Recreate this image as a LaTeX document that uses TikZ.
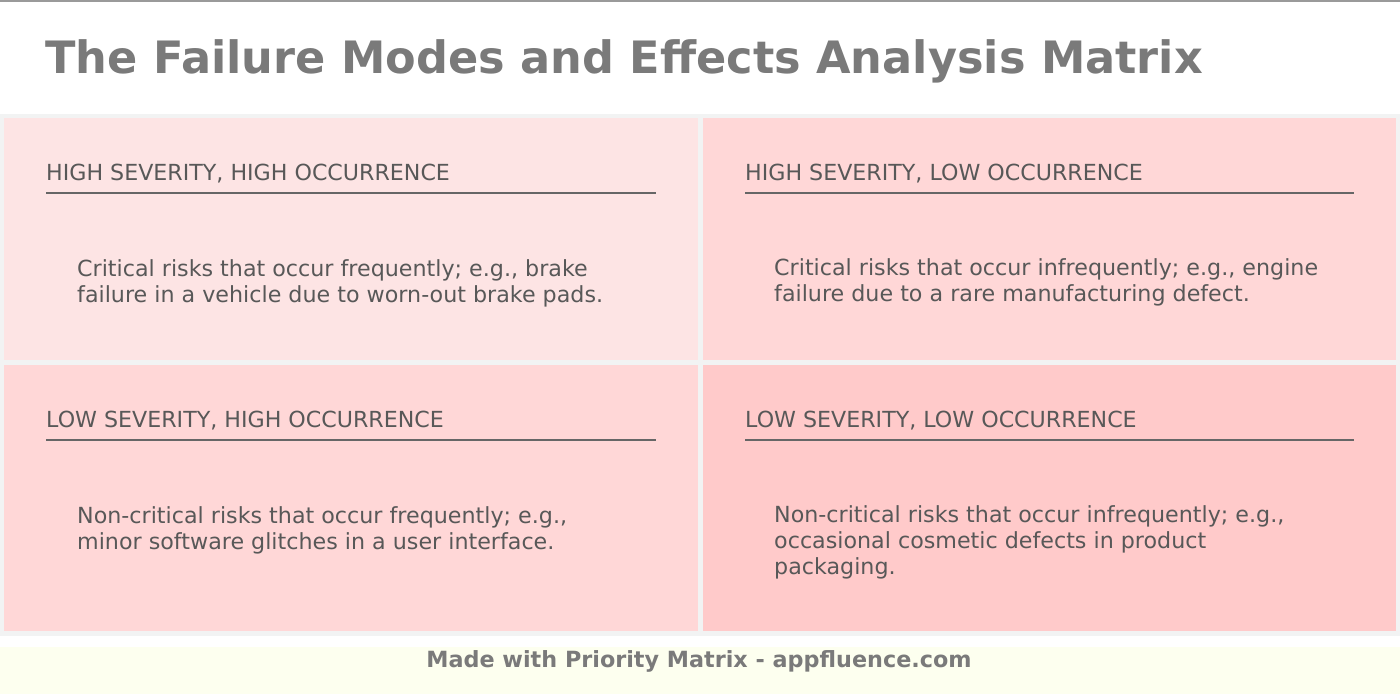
\documentclass[tikz,border=0pt]{standalone}
\usepackage{fontspec}
\setmainfont{DejaVu Sans}
\definecolor{titlegray}{HTML}{7A7A7A}
\definecolor{txtgray}{HTML}{585858}
\definecolor{linegray}{HTML}{666666}
\definecolor{gridbg}{HTML}{F2F3F3}
\definecolor{cellA}{HTML}{FDE4E4}
\definecolor{cellB}{HTML}{FFD7D7}
\definecolor{cellC}{HTML}{FFCACA}
\definecolor{footbg}{HTML}{FDFFEF}
\definecolor{topline}{HTML}{9A9A9A}
\tikzset{
  heading/.style={anchor=base west, inner sep=0pt, text=txtgray, font=\fontsize{22.15}{26}\selectfont},
  body/.style={anchor=base west, inner sep=0pt, text=txtgray, align=left, font=\fontsize{22.2}{26}\selectfont},
  rule/.style={draw=linegray, line width=1.3pt},
}
\begin{document}
\begin{tikzpicture}[x=1pt,y=-1pt]
\useasboundingbox (0,0) rectangle (1400,694);
\fill[white] (0,0) rectangle (1400,694);
\fill[topline] (0,0) rectangle (1400,1.5);
% title
\node[anchor=base west, inner sep=0pt, text=titlegray, font=\fontsize{44.6}{50}\selectfont\bfseries] (title) at (45,73) {The Failure Modes and Effects Analysis Matrix};
% grid
\fill[gridbg] (0,114) rectangle (1400,636);
\fill[cellA] (4,118) rectangle (698,360);
\fill[cellB] (703,118) rectangle (1396,360);
\fill[cellB] (4,365) rectangle (698,631);
\fill[cellC] (703,365) rectangle (1396,631);
% TL
\node[heading] (h1) at (46,180) {HIGH SEVERITY, HIGH OCCURRENCE};
\coordinate (l1a) at (46,193); \coordinate (l1b) at (656,193);
\draw[rule] (l1a) -- (l1b);
\node[body] (b1) at (77,302) {Critical risks that occur frequently; e.g., brake\\failure in a vehicle due to worn-out brake pads.};
% TR
\node[heading] (h2) at (745,180) {HIGH SEVERITY, LOW OCCURRENCE};
\coordinate (l2a) at (745,193); \coordinate (l2b) at (1354,193);
\draw[rule] (l2a) -- (l2b);
\node[body] (b2) at (774,301) {Critical risks that occur infrequently; e.g., engine\\failure due to a rare manufacturing defect.};
% BL
\node[heading] (h3) at (46,427) {LOW SEVERITY, HIGH OCCURRENCE};
\coordinate (l3a) at (46,440); \coordinate (l3b) at (656,440);
\draw[rule] (l3a) -- (l3b);
\node[body] (b3) at (77,549) {Non-critical risks that occur frequently; e.g.,\\minor software glitches in a user interface.};
% BR
\node[heading] (h4) at (745,427) {LOW SEVERITY, LOW OCCURRENCE};
\coordinate (l4a) at (745,440); \coordinate (l4b) at (1354,440);
\draw[rule] (l4a) -- (l4b);
\node[body] (b4) at (774,574) {Non-critical risks that occur infrequently; e.g.,\\occasional cosmetic defects in product\\packaging.};
% footer
\fill[footbg] (0,647) rectangle (1400,694);
\node[anchor=base, inner sep=0pt, text=titlegray, font=\fontsize{22.3}{24}\selectfont\bfseries] (foot) at (699,667) {Made with Priority Matrix - appfluence.com};
\end{tikzpicture}
\end{document}
